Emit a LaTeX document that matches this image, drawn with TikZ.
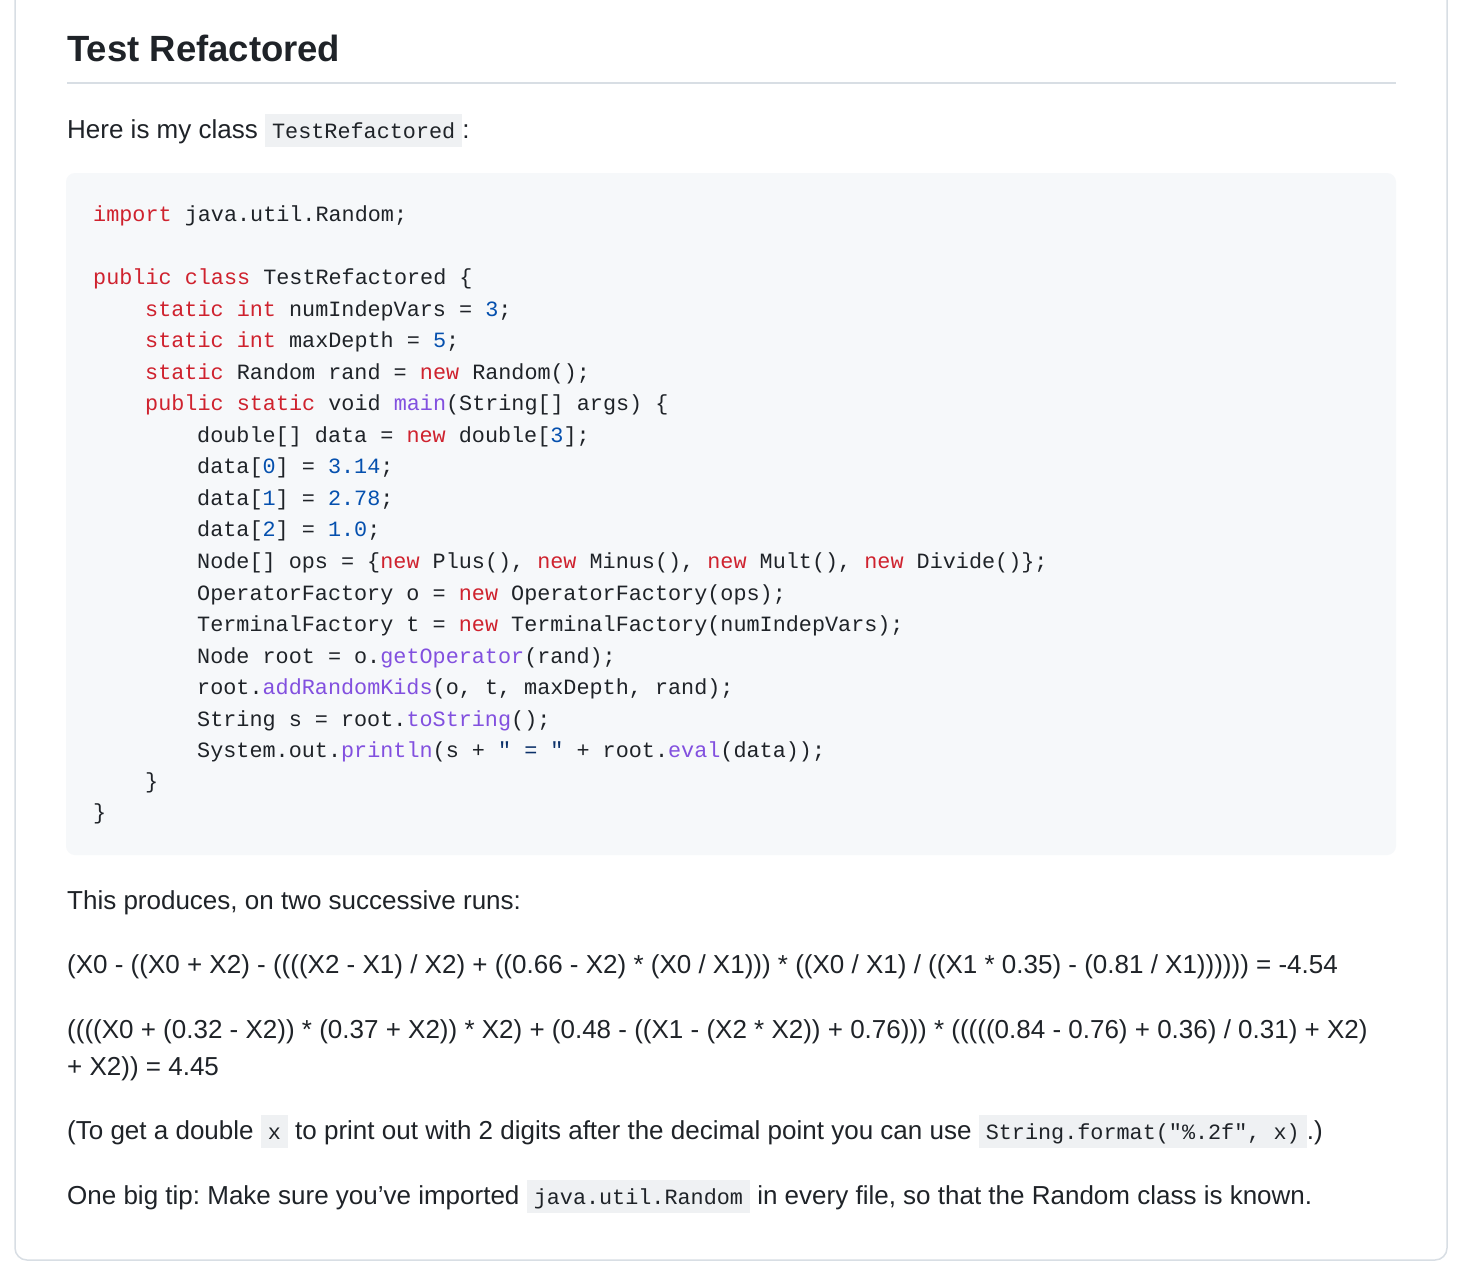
\documentclass[tikz,border=0pt]{standalone}
\usepackage{fontspec}
\setmainfont{Liberation Sans}
\setmonofont{Liberation Mono}
\definecolor{txt}{HTML}{1F2328}
\definecolor{kw}{HTML}{CF222E}
\definecolor{num}{HTML}{0550AE}
\definecolor{fn}{HTML}{8250DF}
\definecolor{strc}{HTML}{0A3069}
\definecolor{codebg}{HTML}{F6F8FA}
\definecolor{icbg}{HTML}{EFF1F3}
\definecolor{rule}{HTML}{D8DEE4}
\newcommand{\K}[1]{\textcolor{kw}{#1}}
\newcommand{\N}[1]{\textcolor{num}{#1}}
\newcommand{\F}[1]{\textcolor{fn}{#1}}
\newcommand{\Sq}[1]{\textcolor{strc}{#1}}
\newcommand{\ic}[1]{{\setlength\fboxsep{0pt}\colorbox{icbg}{\ttfamily\fontsize{21.8}{21.8}\selectfont\rule[-9pt]{0pt}{33pt}\hspace{7pt}#1\hspace{7pt}}}}
\frenchspacing
\begin{document}
\begin{tikzpicture}[x=1pt,y=-1pt,
  cl/.style={anchor=base west,inner sep=0pt,text=txt,font=\ttfamily\fontsize{21.8}{21.8}\selectfont},
  bl/.style={anchor=base west,inner sep=0pt,text=txt,font=\fontsize{26}{26}\selectfont}]
\useasboundingbox (0,0) rectangle (1466,1262);
\fill[white] (0,0) rectangle (1466,1262);
\draw[rule,line width=1.5pt,rounded corners=12pt] (15,-20) -- (15,1260) -- (1447,1260) -- (1447,-20);
\node[bl,font=\bfseries\fontsize{36.5}{36.5}\selectfont] (h) at (67,61) {Test Refactored};
\draw[rule,line width=1.5pt] (67,83) -- (1396,83);
\node[bl] (p1) at (67,138) {Here is my class \ic{TestRefactored}:};
\fill[codebg,rounded corners=9pt] (66,173) rectangle (1396,855);
\node[cl] (c1) at (93,221) {\K{import} java.util.Random;};
\node[cl] (c2) at (93,284) {\K{public} \K{class} TestRefactored \{};
\node[cl] (c3) at (145,316) {\K{static} \K{int} numIndepVars = \N{3};};
\node[cl] (c4) at (145,347) {\K{static} \K{int} maxDepth = \N{5};};
\node[cl] (c5) at (145,379) {\K{static} Random rand = \K{new} Random();};
\node[cl] (c6) at (145,410) {\K{public} \K{static} void \F{main}(String[] args) \{};
\node[cl] (c7) at (197,442) {double[] data = \K{new} double[\N{3}];};
\node[cl] (c8) at (197,473) {data[\N{0}] = \N{3.14};};
\node[cl] (c9) at (197,505) {data[\N{1}] = \N{2.78};};
\node[cl] (c10) at (197,536) {data[\N{2}] = \N{1.0};};
\node[cl] (c11) at (197,568) {Node[] ops = \{\K{new} Plus(), \K{new} Minus(), \K{new} Mult(), \K{new} Divide()\};};
\node[cl] (c12) at (197,600) {OperatorFactory o = \K{new} OperatorFactory(ops);};
\node[cl] (c13) at (197,631) {TerminalFactory t = \K{new} TerminalFactory(numIndepVars);};
\node[cl] (c14) at (197,663) {Node root = o.\F{getOperator}(rand);};
\node[cl] (c15) at (197,694) {root.\F{addRandomKids}(o, t, maxDepth, rand);};
\node[cl] (c16) at (197,726) {String s = root.\F{toString}();};
\node[cl] (c17) at (197,757) {System.out.\F{println}(s + \Sq{" = "} + root.\F{eval}(data));};
\node[cl] (c18) at (145,788) {\}};
\node[cl] (c19) at (93,819) {\}};
\node[bl] (p2) at (67,909) {This produces, on two successive runs:};
\node[bl] (p3) at (67,973) {(X0 - ((X0 + X2) - ((((X2 - X1) / X2) + ((0.66 - X2) * (X0 / X1))) * ((X0 / X1) / ((X1 * 0.35) - (0.81 / X1)))))) = -4.54};
\node[bl] (p4) at (67,1038) {((((X0 + (0.32 - X2)) * (0.37 + X2)) * X2) + (0.48 - ((X1 - (X2 * X2)) + 0.76))) * (((((0.84 - 0.76) + 0.36) / 0.31) + X2)};
\node[bl] (p5) at (67,1075) {+ X2)) = 4.45};
\node[bl] (p6) at (67,1139) {(To get a double \ic{x} to print out with 2 digits after the decimal point you can use \ic{String.format("\%.2f", x)}.)};
\node[bl] (p7) at (67,1204) {One big tip: Make sure you’ve imported \ic{java.util.Random} in every file, so that the Random class is known.};
\end{tikzpicture}
\end{document}
